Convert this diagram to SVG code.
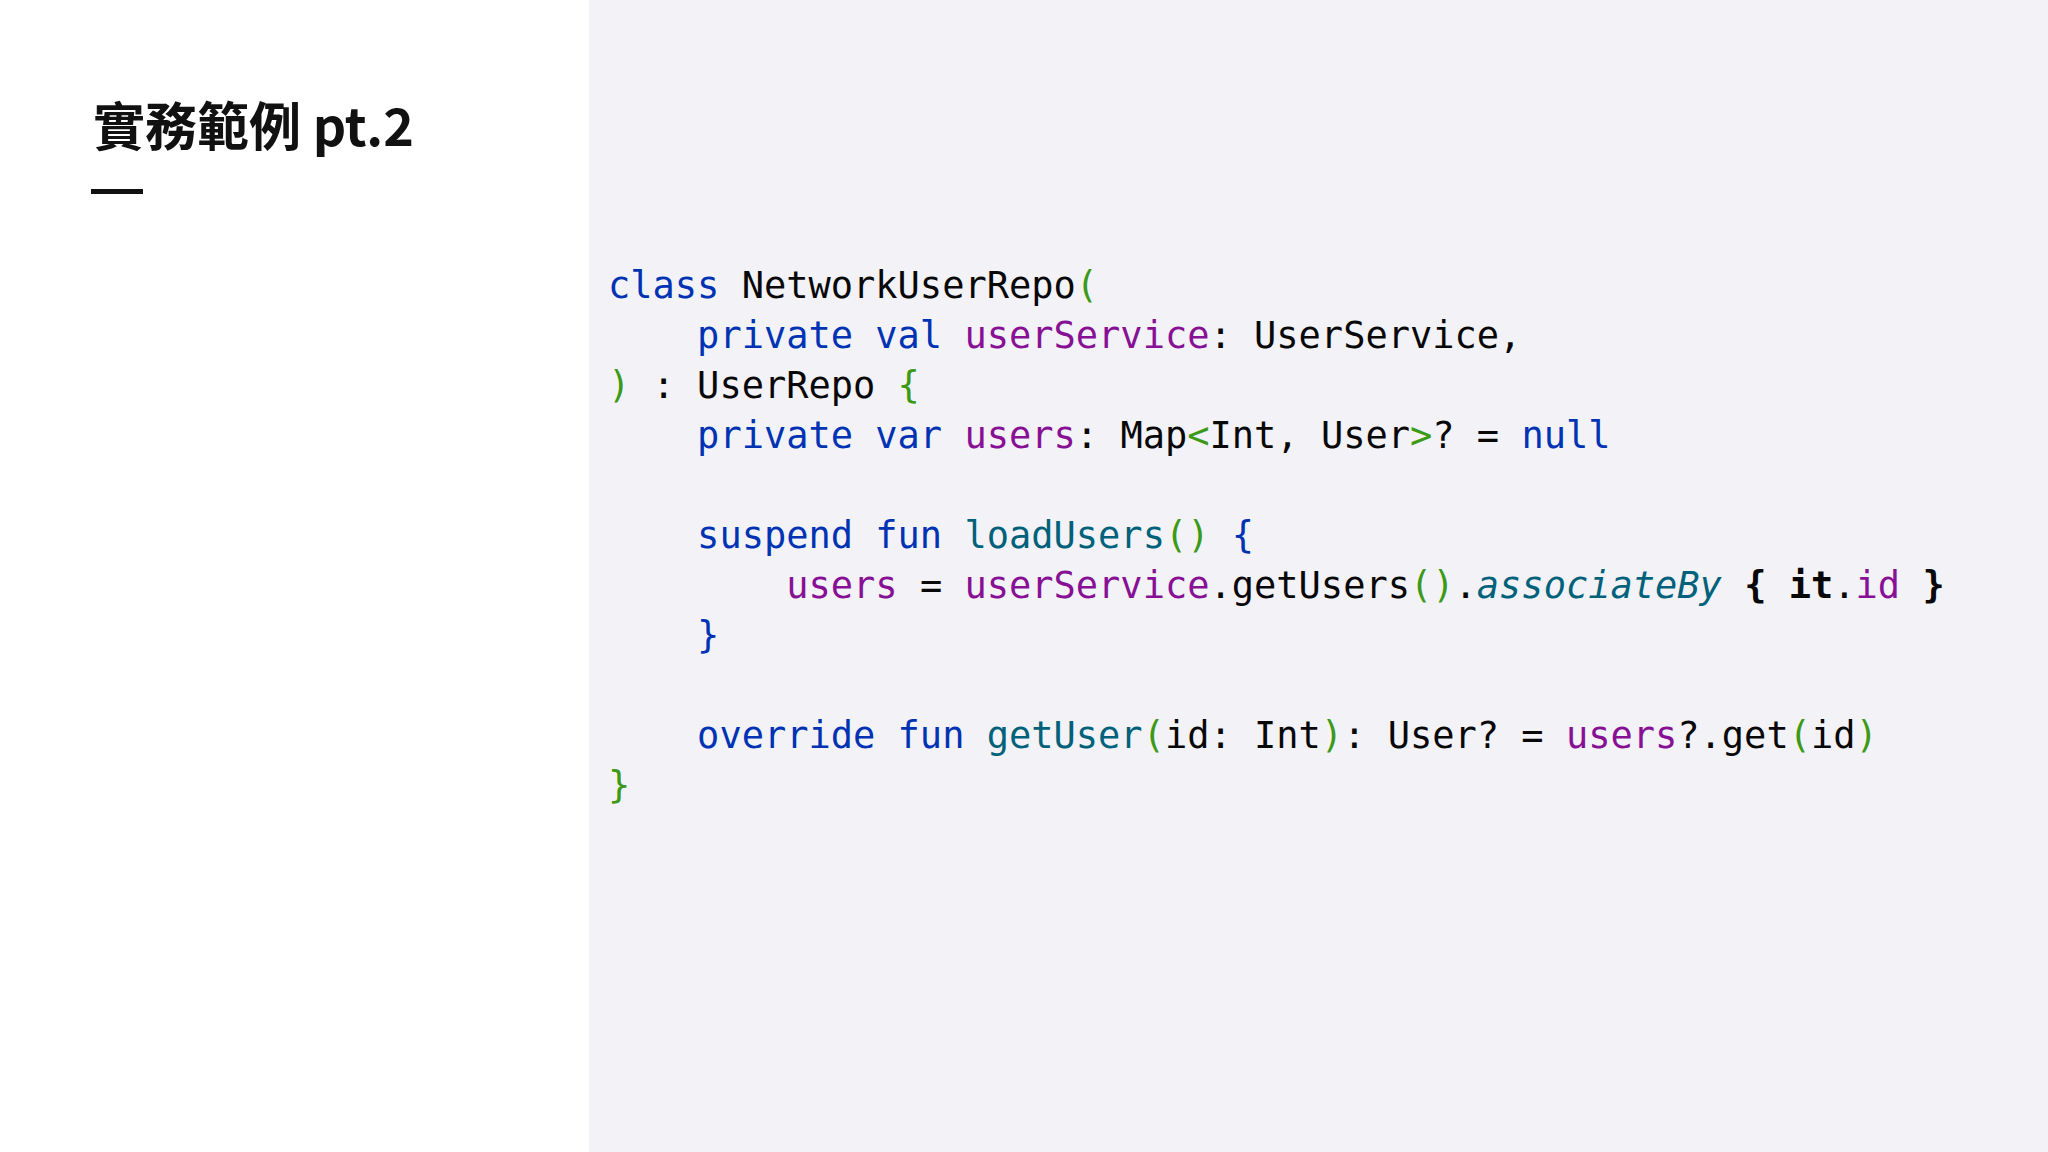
<svg xmlns="http://www.w3.org/2000/svg" width="2048" height="1152" viewBox="0 0 2048 1152">
<style>
.c{font-family:"DejaVu Sans Mono","Liberation Mono",monospace;font-size:37px;fill:#080808;white-space:pre}
.k{fill:#0033b3}.p{fill:#871094}.g{fill:#3c9a17}.f{fill:#00627a}.i{font-style:italic}.b{font-weight:bold}
</style>
<rect width="2048" height="1152" fill="#ffffff"/>
<rect x="589" y="0" width="1459" height="1152" fill="#f2f2f7"/>
<g id="title">
<text x="93" y="146" font-family="'Noto Sans CJK TC','Liberation Sans',sans-serif" font-size="52" font-weight="bold" fill="#111">實務範例 pt.2</text>
<rect x="91" y="189" width="52" height="5" fill="#111"/>
</g>
<g id="code" class="c" xml:space="preserve">
<text class="c" x="608" y="298"><tspan class="k">class</tspan> NetworkUserRepo<tspan class="g">(</tspan></text>
<text class="c" x="608" y="348">    <tspan class="k">private val</tspan> <tspan class="p">userService</tspan>: UserService,</text>
<text class="c" x="608" y="398"><tspan class="g">)</tspan> : UserRepo <tspan class="g">{</tspan></text>
<text class="c" x="608" y="448">    <tspan class="k">private var</tspan> <tspan class="p">users</tspan>: Map<tspan class="g">&lt;</tspan>Int, User<tspan class="g">&gt;</tspan>? = <tspan class="k">null</tspan></text>
<text class="c" x="608" y="548">    <tspan class="k">suspend fun</tspan> <tspan class="f">loadUsers</tspan><tspan class="g">()</tspan> <tspan class="k">{</tspan></text>
<text class="c" x="608" y="598">        <tspan class="p">users</tspan> = <tspan class="p">userService</tspan>.getUsers<tspan class="g">()</tspan>.<tspan class="f i">associateBy</tspan> <tspan class="b">{ it</tspan>.<tspan class="p">id</tspan> <tspan class="b">}</tspan></text>
<text class="c" x="608" y="648">    <tspan class="k">}</tspan></text>
<text class="c" x="608" y="748">    <tspan class="k">override fun</tspan> <tspan class="f">getUser</tspan><tspan class="g">(</tspan>id: Int<tspan class="g">)</tspan>: User? = <tspan class="p">users</tspan>?.get<tspan class="g">(</tspan>id<tspan class="g">)</tspan></text>
<text class="c" x="608" y="798"><tspan class="g">}</tspan></text>
</g>
</svg>
